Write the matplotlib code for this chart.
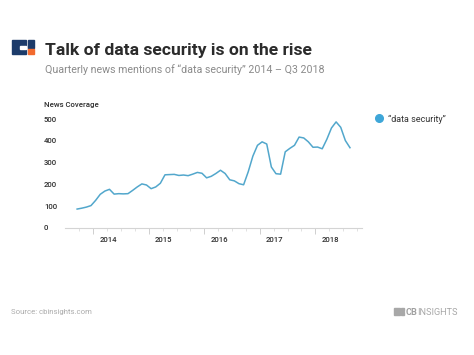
import matplotlib
matplotlib.use("Agg")
import matplotlib.pyplot as plt
from matplotlib.lines import Line2D
from matplotlib.patches import Rectangle
import matplotlib.transforms as mtransforms
import numpy as np

plt.rcParams['font.family'] = ['Roboto', 'DejaVu Sans']

# ---- data (monthly, months relative to Jan 2014) ----
months = np.arange(60) - 3.5
coverage = [86, 90, 95, 102, 126, 154, 169, 177, 155, 157,
            156, 157, 172, 188, 202, 197, 180, 188, 205, 244,
            245, 246, 241, 243, 240, 247, 255, 251, 230, 237,
            250, 265, 250, 221, 216, 203, 198, 258, 330, 380,
            396, 386, 280, 249, 247, 350, 366, 380, 418, 414,
            396, 371, 372, 364, 408, 460, 488, 463, 402, 369]
series_name = '\u201cdata security\u201d'
years = [2014, 2015, 2016, 2017, 2018]
yticks = [0, 100, 200, 300, 400, 500]

W, H = 474, 355
fig = plt.figure(figsize=(W / 100, H / 100), dpi=100)
fig.patch.set_facecolor('white')

def fx(px):
    return px / W

def fy(py):
    return 1 - py / H

ax = fig.add_axes([fx(65), fy(227.7), (362 - 65) / W, (227.7 - 119.3) / H])
line_color = '#52a7cc'
dot_color = '#3ea6d8'
ax.plot(months, coverage, color=line_color, lw=1.1, label=series_name)
ax.set_ylim(0, 500)
ax.set_xlim(-6.12, 58.1)

for s in ['top', 'right', 'left']:
    ax.spines[s].set_visible(False)
ax.spines['bottom'].set_color('#d4d4d4')
ax.spines['bottom'].set_linewidth(0.8)

ax.set_yticks(yticks)
ax.set_yticklabels([str(v) for v in yticks])
ax.tick_params(axis='y', length=0, pad=15.1, labelsize=5.6, labelcolor='#2e2e2e')
for lab in ax.get_yticklabels():
    lab.set_horizontalalignment('left')
    lab.set_fontweight('medium')

ax.set_xticks([(y - 2014) * 12 for y in years])
ax.set_xticks(np.arange(-3, 58, 3), minor=True)
ax.set_xticklabels([])
ax.tick_params(axis='x', which='major', length=4, width=0.7, color='#cfcfcf')
ax.tick_params(axis='x', which='minor', length=2.5, width=0.6, color='#dcdcdc')

trans = mtransforms.blended_transform_factory(ax.transData, fig.transFigure)
for y in years:
    ax.text((y - 2014) * 12 + 3.25, fy(240), str(y), transform=trans,
            ha='center', va='center', fontsize=5.6, fontweight='medium',
            color='#2e2e2e')

fig.text(fx(44), fy(105), 'News Coverage', ha='left', va='center',
         fontsize=5.6, fontweight='medium', color='#2e2e2e')

# title & subtitle
fig.text(fx(45), fy(55), 'Talk of data security is on the rise', ha='left',
         va='baseline', fontsize=12.6, fontweight='bold', color='#2b2b2b')
fig.text(fx(45), fy(73), 'Quarterly news mentions of \u201cdata security\u201d 2014 \u2013 Q3 2018',
         ha='left', va='baseline', fontsize=7.7, color='#8a8a8a')

# logo top-left
navy = '#1c3b6a'
orange = '#f26a2e'
fig.patches.extend([
    Rectangle((fx(12), fy(54)), 14 / W, 14 / H, transform=fig.transFigure, color=navy),
    Rectangle((fx(27.5), fy(47.5)), 6.5 / W, 7.5 / H, transform=fig.transFigure, color=navy),
    Rectangle((fx(27.5), fy(54)), 6.5 / W, 5.5 / H, transform=fig.transFigure, color=orange),
    Rectangle((fx(20), fy(48.5)), 6 / W, 2.5 / H, transform=fig.transFigure, color='white'),
])

# legend
handle = Line2D([], [], marker='o', ls='', color=dot_color, markersize=5.5)
fig.legend([handle], [series_name], loc='center left',
           bbox_to_anchor=(fx(374), fy(119)), frameon=False, fontsize=6.5,
           handletextpad=0.3, handlelength=1.2, labelcolor='#333333',
           borderaxespad=0, borderpad=0)

# footer
fig.text(fx(11), fy(314), 'Source: cbinsights.com', ha='left', va='baseline',
         fontsize=5.6, color='#ababab')
fig.patches.extend([
    Rectangle((fx(394), fy(315)), 6 / W, 7 / H, transform=fig.transFigure, color='#a8a8a8'),
    Rectangle((fx(401), fy(315)), 3 / W, 3 / H, transform=fig.transFigure, color='#a8a8a8'),
    Rectangle((fx(401), fy(311)), 3 / W, 3 / H, transform=fig.transFigure, color='#a8a8a8'),
])
fig.text(fx(405.5), fy(315), 'CB', ha='left', va='baseline', fontsize=6.6,
         fontweight='bold', color='#a0a0a0')
fig.text(fx(417.2), fy(315), 'INSIGHTS', ha='left', va='baseline', fontsize=6.6,
         color='#a8a8a8')

fig.savefig('out.png', dpi=100, facecolor='white')
